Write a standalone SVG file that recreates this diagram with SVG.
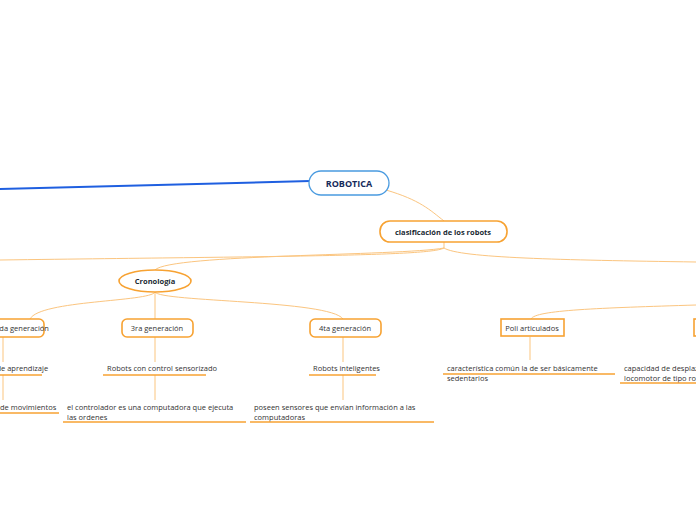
<svg xmlns="http://www.w3.org/2000/svg" width="696" height="520" viewBox="0 0 696 520">
<style>
text{font-family:"Open Sans","Noto Sans",sans-serif;font-size:7.5px;fill:#333}
.b{font-weight:bold;fill:#1a2a33}
.o{fill:#fff;stroke:#f7a232;stroke-width:1.6}
.l{fill:none;stroke:#fbc57f;stroke-width:1}
.u{stroke:#f7a232;stroke-width:1.5}
</style>
<rect width="696" height="520" fill="#fff"/>
<g id="connectors">
<path d="M0 189 L310 181" stroke="#1f5fe0" stroke-width="2" fill="none"/>
<path class="l" d="M386 190 C420 200 430 210 444 221"/>
<path class="l" d="M444 242 L444 248 C430 256 300 256 0 260"/>
<path class="l" d="M444 248 C460 258 560 260 696 262"/>
<path class="l" d="M444 248 C400 256 170 254 155 270"/>
<path class="l" d="M155 292 C150 302 40 300 30 319"/>
<path class="l" d="M155 292 L155 319"/>
<path class="l" d="M155 292 C160 302 330 300 343 319"/>
<path class="l" d="M531 319 C535 310 600 308 696 305"/>
<path class="l" d="M3 337 L3 362 M3 375 L3 400"/>
<path class="l" d="M155 337 L155 362 M155 375 L155 400"/>
<path class="l" d="M343 337 L343 362 M343 375 L343 400"/>
<path class="l" d="M530 337 L530 360"/>
</g>
<g id="robotica"><rect x="309" y="171" width="80" height="24" rx="12" fill="#fff" stroke="#4a9be0" stroke-width="1.3"/><text x="349" y="186.5" text-anchor="middle" class="b" style="font-size:9px;fill:#152a5a">ROBOTICA</text></g>
<g id="clasificacion"><rect x="380" y="221" width="127" height="21" rx="10" class="o"/><text x="443" y="234.5" text-anchor="middle" class="b">clasificación de los robots</text></g>
<g id="cronologia"><ellipse cx="155" cy="281" rx="36" ry="11" class="o"/><text x="155" y="284" text-anchor="middle" class="b">Cronología</text></g>
<g id="gen2"><rect x="-30" y="319" width="74" height="18" rx="5" class="o"/><text x="-5" y="331">2da generación</text></g>
<g id="gen3"><rect x="122" y="319" width="71" height="18" rx="5" class="o"/><text x="157" y="331" text-anchor="middle">3ra generación</text></g>
<g id="gen4"><rect x="310" y="319" width="71" height="18" rx="5" class="o"/><text x="345" y="331" text-anchor="middle">4ta generación</text></g>
<g id="poli"><rect x="501" y="319" width="63" height="17" class="o"/><text x="532" y="331" text-anchor="middle">Poli articulados</text></g>
<g id="movil"><rect x="694" y="319" width="20" height="17" class="o"/></g>
<g id="t1"><text x="-30" y="371">Robots de aprendizaje</text><line x1="0" y1="375" x2="42" y2="375" class="u"/></g>
<g id="t2"><text x="-40" y="410">secuencias de movimientos</text><line x1="0" y1="413" x2="59" y2="413" class="u"/></g>
<g id="t3"><text x="107" y="371">Robots con control sensorizado</text><line x1="103" y1="375" x2="206" y2="375" class="u"/></g>
<g id="t4"><text x="67" y="410">el controlador es una computadora  que ejecuta</text><text x="67" y="420">las ordenes</text><line x1="63" y1="422" x2="246" y2="422" class="u"/></g>
<g id="t5"><text x="313" y="371">Robots inteligentes</text><line x1="309" y1="375" x2="376" y2="375" class="u"/></g>
<g id="t6"><text x="254" y="410">poseen sensores que envían información a las</text><text x="254" y="420">computadoras</text><line x1="250" y1="422" x2="434" y2="422" class="u"/></g>
<g id="t7"><text x="447" y="371">característica común la de ser básicamente</text><text x="447" y="381">sedentarios</text><line x1="443" y1="374" x2="615" y2="374" class="u"/></g>
<g id="t8"><text x="624" y="371">capacidad de desplazamiento</text><text x="624" y="381">locomotor de tipo rodante</text><line x1="620" y1="383" x2="696" y2="383" class="u"/></g>
</svg>
